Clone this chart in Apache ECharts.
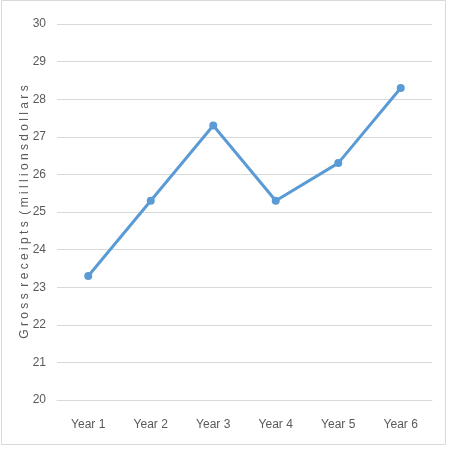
<!DOCTYPE html>
<html>
<head>
<meta charset="utf-8">
<script src="https://cdn.jsdelivr.net/npm/echarts@6/dist/echarts.min.js"></script>
<style>
html,body{margin:0;padding:0;background:#fff;}
#main{width:450px;height:450px;}
</style>
</head>
<body>
<div id="main"></div>
<script>
const categories = ['Year 1','Year 2','Year 3','Year 4','Year 5','Year 6'];
const receipts = [23.3, 25.3, 27.3, 25.3, 26.3, 28.3];
const yAxisName = 'G r o s s  r e c e i p t s  ( m i l l i o n s d o l l a r s';

const chart = echarts.init(document.getElementById('main'));
const font = '"Liberation Sans Narrow", "Liberation Sans", Arial, sans-serif';
chart.setOption({
  animation: false,
  backgroundColor: '#fff',
  graphic: [{
    type: 'rect',
    shape: {x: 1.5, y: 0.5, width: 444, height: 444},
    style: {fill: 'none', stroke: '#d9d9d9', lineWidth: 1},
    silent: true
  }],
  grid: {left: 57, right: 18, top: 24, bottom: 50},
  xAxis: {
    type: 'category',
    data: categories,
    boundaryGap: true,
    axisLine: {show: true, lineStyle: {color: '#d9d9d9', width: 1}},
    axisTick: {show: false},
    axisLabel: {color: '#595959', fontSize: 12, fontFamily: font, margin: 19}
  },
  yAxis: {
    type: 'value',
    min: 20, max: 30, interval: 1,
    name: yAxisName,
    nameLocation: 'middle',
    nameGap: 26,
    nameMoveOverlap: false,
    nameTextStyle: {color: '#595959', fontSize: 12, fontFamily: font},
    axisLine: {show: false},
    axisTick: {show: false},
    axisLabel: {color: '#595959', fontSize: 12, fontFamily: font, margin: 11},
    splitLine: {lineStyle: {color: '#d9d9d9', width: 1}}
  },
  series: [{
    type: 'line',
    data: receipts,
    symbol: 'circle',
    symbolSize: 8,
    lineStyle: {color: '#5b9bd5', width: 3},
    itemStyle: {color: '#5b9bd5'}
  }]
});
</script>
</body>
</html>
